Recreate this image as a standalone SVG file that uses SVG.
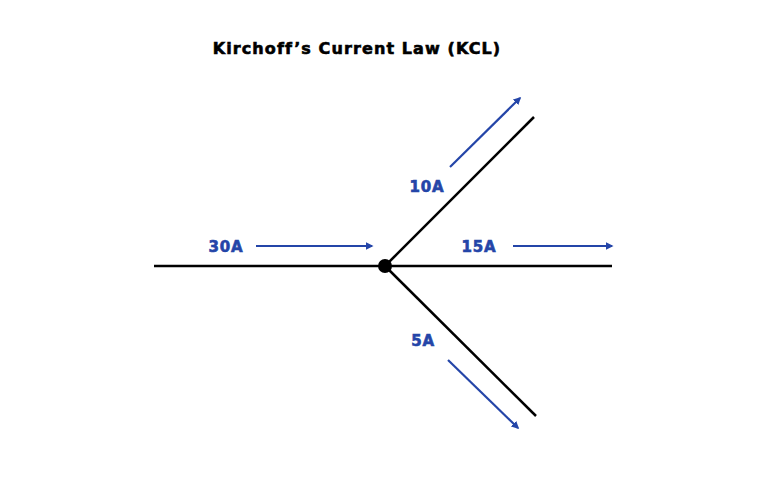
<svg xmlns="http://www.w3.org/2000/svg" width="768" height="480" viewBox="0 0 768 480">
<style>
.wire{stroke:#000;stroke-width:2.5;fill:none}
.cur{stroke:#2445a8;stroke-width:2.2;fill:none;marker-end:url(#ah)}
.lbl{font-family:"DejaVu Sans",sans-serif;font-weight:bold;font-size:15px;fill:#2445a8;stroke:#2445a8;stroke-width:0.6;letter-spacing:0.8px}
.title{font-family:"DejaVu Sans",sans-serif;font-weight:bold;font-size:16px;fill:#000;stroke:#000;stroke-width:0.6;letter-spacing:1.1px}
</style>
<defs>
<marker id="ah" viewBox="0 0 10 10" refX="8" refY="5" markerWidth="3.5" markerHeight="3.5" orient="auto" markerUnits="strokeWidth">
<path d="M0,0 L10,5 L0,10 z" fill="#2445a8"/>
</marker>
</defs>
<rect width="768" height="480" fill="#fff"/>
<text class="title" x="357" y="54" text-anchor="middle">Kirchoff’s Current Law (KCL)</text>
<g id="wires">
<line class="wire" x1="154" y1="266" x2="612" y2="266"/>
<line class="wire" x1="385" y1="266" x2="534" y2="117"/>
<line class="wire" x1="385" y1="266" x2="536" y2="416"/>
</g>
<g id="junction"><circle cx="385" cy="266" r="7" fill="#000"/></g>
<g id="connectors">
<line class="cur" x1="256" y1="246" x2="372" y2="246"/>
<line class="cur" x1="513" y1="246" x2="612" y2="246"/>
<line class="cur" x1="450" y1="167" x2="520" y2="98"/>
<line class="cur" x1="448" y1="360" x2="518" y2="428"/>
</g>
<g id="labels">
<text class="lbl" x="226" y="252" text-anchor="middle">30A</text>
<text class="lbl" x="479" y="252" text-anchor="middle">15A</text>
<text class="lbl" x="427" y="192" text-anchor="middle">10A</text>
<text class="lbl" x="423" y="346" text-anchor="middle">5A</text>
</g>
</svg>
